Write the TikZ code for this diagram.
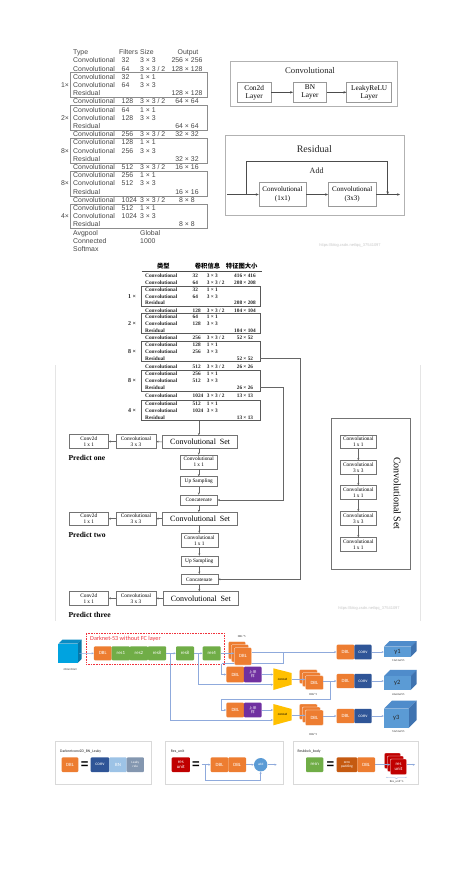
\documentclass[tikz,border=0pt]{standalone}
\usepackage{fontspec}
\setmainfont{Liberation Serif}
\newfontfamily\arialf{Liberation Sans}
\newfontfamily\carlf{Carlito}
\newfontfamily\cjkf{Noto Sans CJK SC}
\usetikzlibrary{arrows.meta,decorations.pathreplacing}
\definecolor{dblor}{HTML}{ED7D31}
\definecolor{resgr}{HTML}{70AD47}
\definecolor{convbl}{HTML}{2F5597}
\definecolor{bnbl}{HTML}{9DC3E6}
\definecolor{leakyg}{HTML}{8497B0}
\definecolor{uppur}{HTML}{7030A0}
\definecolor{catyel}{HTML}{FFC000}
\definecolor{cubefr}{HTML}{5B9BD5}
\definecolor{cubetp}{HTML}{4F8CCB}
\definecolor{cubesd}{HTML}{3F73B0}
\definecolor{incyan}{HTML}{00A3E0}
\definecolor{incyantp}{HTML}{0A8CC4}
\definecolor{incyansd}{HTML}{0678AA}
\definecolor{resred}{HTML}{C00000}
\definecolor{zeropad}{HTML}{C55A11}
\definecolor{linkbl}{HTML}{8FAADC}
\definecolor{dashred}{HTML}{F0323C}
\definecolor{panelg}{HTML}{D9D9D9}

\newcommand\trow[5]{%
  \pgfmathsetmacro\tyy{60.5+(#1-1)*8.2+2.4}%
  \node[tt,anchor=base west] (ta#1) at (73,\tyy) {#2};%
  \node[tt,anchor=base west] (tb#1) at (121.5,\tyy) {#3};%
  \node[tt,anchor=base west] (tc#1) at (140,\tyy) {#4};%
  \node[tt,anchor=base] (td#1) at (187,\tyy) {#5};%
}
\newcommand\tbx[3]{%
  \pgfmathsetmacro\tya{60.5+(#1-1)*8.2-4.2}%
  \pgfmathsetmacro\tyb{60.5+(#2-1)*8.2+4.2}%
  \pgfmathsetmacro\tym{60.5+(#1)*8.2}%
  \draw[tboxs] (70,\tya) rectangle (207,\tyb);%
  \node[tt] (tm#1) at (65,\tym) {#3};%
}
\newcommand\mrow[6]{%
  \node[mt,anchor=base west] (ma#1) at (145,{#2+1.8}) {#3};%
  \node[mt,anchor=base west] (mb#1) at (192.5,{#2+1.8}) {#4};%
  \node[mt,anchor=base west] (mc#1) at (206.7,{#2+1.8}) {#5};%
  \node[mt,anchor=base] (md#1) at (245,{#2+1.8}) {#6};%
}
\newcommand\mbx[4]{%
  \draw[mboxs] (141.7,#1) rectangle (260,#2);%
  \node[mt,font=\bfseries\fontsize{6}{7}\selectfont] (mm#3) at (132,{(#1+#2)/2}) {#4};%
}
% stacked box: name, xleft, ytop, w, h, colour, text
\newcommand\stk[7]{%
  \pgfmathsetmacro\sxa{#2+#4-6}\pgfmathsetmacro\sya{#3+#5-6}%
  \fill[#6,draw=white,line width=.3pt,rounded corners=1pt] (#2,#3) rectangle (\sxa,\sya);%
  \fill[#6,draw=white,line width=.3pt,rounded corners=1pt] ({#2+3},{#3+3}) rectangle ({\sxa+3},{\sya+3});%
  \node[bb,fill=#6,draw=white,line width=.3pt,minimum width={#4-6},minimum height={#5-6}] (#1) at ({#2+3+#4/2},{#3+3+#5/2}) {#7};%
}
% cube: name, xleft, ytop(front), w, h, depth, label
\newcommand\ycube[7]{%
  \fill[cubetp] (#2,#3) -- ({#2+#6},{#3-#6}) -- ({#2+#4+#6},{#3-#6}) -- ({#2+#4},#3) -- cycle;%
  \fill[cubesd] ({#2+#4},#3) -- ({#2+#4+#6},{#3-#6}) -- ({#2+#4+#6},{#3+#5-#6}) -- ({#2+#4},{#3+#5}) -- cycle;%
  \node[fill=cubefr,inner sep=0pt,minimum width=#4,minimum height=#5,font=\carlf\fontsize{6.5}{7}\selectfont,text=black!85] (#1) at ({#2+#4/2},{#3+#5/2}) {#7};%
}

\begin{document}
\begin{tikzpicture}[x=1pt,y=-1pt,
  tt/.style={font=\arialf\fontsize{6.9}{7}\selectfont,text=black!72,inner sep=0pt},
  tboxs/.style={draw=black!45,line width=.5pt},
  mt/.style={font=\bfseries\fontsize{5.3}{6}\selectfont,text=black!85,inner sep=0pt},
  mboxs/.style={draw=black!65,line width=.55pt},
  gbox/.style={draw=black!40,line width=.5pt,fill=white,align=center,inner sep=0pt},
  garr/.style={draw=black!70,line width=.5pt,-{Stealth[length=3pt,width=2.4pt]}},
  fbox/.style={draw=black!55,line width=.45pt,fill=white,align=center,inner sep=0pt,font=\fontsize{5.3}{6}\selectfont},
  marr/.style={draw=black!60,line width=.5pt,-{Stealth[length=2.4pt,width=2pt]}},
  plab/.style={font=\bfseries\fontsize{7.6}{8}\selectfont,inner sep=0pt,anchor=west},
  bb/.style={rounded corners=1pt,inner sep=0pt,minimum height=14pt,font=\carlf\fontsize{4.8}{5}\selectfont,text=white,align=center},
  dbl/.style={bb,fill=dblor,minimum width=17.7pt},
  resb/.style={bb,fill=resgr,minimum width=18.3pt},
  convb/.style={bb,fill=convbl,minimum width=17.4pt},
  upsm/.style={bb,fill=uppur,minimum width=17.7pt,minimum height=15.6pt,font=\cjkf\fontsize{3.6}{4.2}\selectfont},
  lnk/.style={draw=linkbl,line width=.45pt,-{Stealth[length=2.2pt,width=2pt]}},
  lnkn/.style={draw=linkbl,line width=.45pt},
  tiny/.style={font=\carlf\fontsize{3}{3.5}\selectfont,text=black!75,inner sep=0pt},
  ptitle/.style={font=\carlf\fontsize{3.8}{4}\selectfont,text=black!85,inner sep=0pt,anchor=west},
  eqs/.style={font=\arialf\bfseries\fontsize{13}{13}\selectfont,inner sep=0pt},
  wm/.style={font=\arialf\fontsize{4}{4.5}\selectfont,text=black!22,inner sep=0pt}
]
\useasboundingbox (0,0) rectangle (474,880);
\fill[white] (0,0) rectangle (474,880);

%================ TOP TABLE =================
\node[tt,anchor=base west] (hType) at (73,54.7) {Type};
\node[tt,anchor=base west] (hFil) at (119,54.7) {Filters};
\node[tt,anchor=base west] (hSize) at (140,54.7) {Size};
\node[tt,anchor=base] (hOut) at (188,54.7) {Output};
\trow{1}{Convolutional}{32}{3 × 3}{256 × 256}
\trow{2}{Convolutional}{64}{3 × 3 / 2}{128 × 128}
\trow{3}{Convolutional}{32}{1 × 1}{}
\trow{4}{Convolutional}{64}{3 × 3}{}
\trow{5}{Residual}{}{}{128 × 128}
\trow{6}{Convolutional}{128}{3 × 3 / 2}{64 × 64}
\trow{7}{Convolutional}{64}{1 × 1}{}
\trow{8}{Convolutional}{128}{3 × 3}{}
\trow{9}{Residual}{}{}{64 × 64}
\trow{10}{Convolutional}{256}{3 × 3 / 2}{32 × 32}
\trow{11}{Convolutional}{128}{1 × 1}{}
\trow{12}{Convolutional}{256}{3 × 3}{}
\trow{13}{Residual}{}{}{32 × 32}
\trow{14}{Convolutional}{512}{3 × 3 / 2}{16 × 16}
\trow{15}{Convolutional}{256}{1 × 1}{}
\trow{16}{Convolutional}{512}{3 × 3}{}
\trow{17}{Residual}{}{}{16 × 16}
\trow{18}{Convolutional}{1024}{3 × 3 / 2}{8 × 8}
\trow{19}{Convolutional}{512}{1 × 1}{}
\trow{20}{Convolutional}{1024}{3 × 3}{}
\trow{21}{Residual}{}{}{8 × 8}
\trow{22}{Avgpool}{}{Global}{}
\trow{23}{Connected}{}{1000}{}
\trow{24}{Softmax}{}{}{}
\tbx{3}{5}{1×}
\tbx{7}{9}{2×}
\tbx{11}{13}{8×}
\tbx{15}{17}{8×}
\tbx{19}{21}{4×}

%================ TOP RIGHT: Convolutional =================
\draw[draw=black!30,line width=.5pt] (230,61.7) rectangle (397.3,106);
\node[inner sep=0pt,font=\fontsize{8.7}{9}\selectfont,text=black!85] (convT) at (310,70.7) {Convolutional};
\node[gbox,minimum width=33.7,minimum height=20,font=\fontsize{7.3}{8}\selectfont] (c2d) at (254.2,92.3) {Con2d\\Layer};
\node[gbox,minimum width=33.4,minimum height=20,font=\fontsize{7.3}{8}\selectfont] (bnl) at (310,92.3) {BN\\Layer};
\node[gbox,minimum width=45,minimum height=20,font=\fontsize{7.3}{8}\selectfont] (lrl) at (369.2,92.3) {LeakyReLU\\Layer};
\draw[garr] (c2d) -- (bnl);
\draw[garr] (bnl) -- (lrl);

%================ TOP RIGHT: Residual =================
\draw[draw=black!30,line width=.5pt] (225.7,135.7) rectangle (404.3,215.7);
\node[inner sep=0pt,font=\fontsize{10}{11}\selectfont,text=black!85] (resT) at (314.3,149) {Residual};
\node[inner sep=0pt,font=\fontsize{8.1}{9}\selectfont,text=black!85] (addT) at (316.7,170.7) {Add};
\node[gbox,minimum width=47,minimum height=24.4,font=\fontsize{7}{8.5}\selectfont] (rc1) at (282.5,194.5) {Convolutional\\(1x1)};
\node[gbox,minimum width=47.7,minimum height=24.4,font=\fontsize{7}{8.5}\selectfont] (rc2) at (352.2,194.5) {Convolutional\\(3x3)};
\coordinate (rin) at (227.3,194.5);
\coordinate (rsp) at (246,194.5);
\coordinate (rtl) at (246,161.7);
\coordinate (rtr) at (387.7,161.7);
\coordinate (rjn) at (387.7,194.5);
\coordinate (rout) at (400,194.5);
\draw[black!70,line width=.5pt] (rin) -- (rsp);
\draw[garr] (rsp) -- (rc1);
\draw[garr] (rc1) -- (rc2);
\draw[garr] (rc2) -- (rout);
\draw[garr] (rsp) -- (rtl) -- (rtr) -- (rjn);
\node[wm] (wm1) at (350,245) {https://blog.csdn.net/qq\_37541097};

%================ MIDDLE TABLE =================
\node[inner sep=0pt,font=\cjkf\bfseries\fontsize{6.3}{7}\selectfont] (mh1) at (163.3,266.3) {类型};
\node[inner sep=0pt,font=\cjkf\bfseries\fontsize{6.3}{7}\selectfont] (mh2) at (207.5,266.3) {卷积信息};
\node[inner sep=0pt,font=\cjkf\bfseries\fontsize{6.3}{7}\selectfont] (mh3) at (241.7,266.3) {特征图大小};
\draw[black!70,line width=.5pt] (141.7,271.3) -- (261.7,271.3);
\mrow{1}{275.3}{Convolutional}{32}{3 × 3}{416 × 416}
\mrow{2}{282.3}{Convolutional}{64}{3 × 3 / 2}{208 × 208}
\mrow{3}{289.7}{Convolutional}{32}{1 × 1}{}
\mrow{4}{296.3}{Convolutional}{64}{3 × 3}{}
\mrow{5}{303}{Residual}{}{}{208 × 208}
\mrow{6}{310.3}{Convolutional}{128}{3 × 3 / 2}{104 × 104}
\mrow{7}{317}{Convolutional}{64}{1 × 1}{}
\mrow{8}{323.7}{Convolutional}{128}{3 × 3}{}
\mrow{9}{330.3}{Residual}{}{}{104 × 104}
\mrow{10}{338}{Convolutional}{256}{3 × 3 / 2}{52 × 52}
\mrow{11}{345}{Convolutional}{128}{1 × 1}{}
\mrow{12}{351.7}{Convolutional}{256}{3 × 3}{}
\mrow{13}{358.3}{Residual}{}{}{52 × 52}
\mrow{14}{366.7}{Convolutional}{512}{3 × 3 / 2}{26 × 26}
\mrow{15}{374}{Convolutional}{256}{1 × 1}{}
\mrow{16}{380.7}{Convolutional}{512}{3 × 3}{}
\mrow{17}{387.7}{Residual}{}{}{26 × 26}
\mrow{18}{396}{Convolutional}{1024}{3 × 3 / 2}{13 × 13}
\mrow{19}{403.3}{Convolutional}{512}{1 × 1}{}
\mrow{20}{410.7}{Convolutional}{1024}{3 × 3}{}
\mrow{21}{417.3}{Residual}{}{}{13 × 13}
\mbx{286.3}{306.4}{1}{1 ×}
\mbx{313.6}{333.7}{2}{2 ×}
\mbx{341.6}{361.7}{3}{8 ×}
\mbx{370.6}{391.1}{4}{8 ×}
\mbx{399.9}{420.7}{5}{4 ×}

%================ MIDDLE FLOW =================
\draw[black!10,line width=.4pt] (55,365) -- (55,621);
\draw[black!10,line width=.4pt] (420,365) -- (420,621);
\node[fbox,minimum width=75,minimum height=12.8,font=\fontsize{8}{9}\selectfont] (cs1) at (200.2,442) {Convolutional~ Set};
\node[fbox,minimum width=40,minimum height=14] (c33a) at (136,441.5) {Convolutional\\3 x 3};
\node[fbox,minimum width=39,minimum height=14] (c2da) at (88.8,441.5) {Conv2d\\1 x 1};
\node[plab] (p1) at (68.3,458.3) {Predict one};
\node[fbox,minimum width=37,minimum height=14] (c11a) at (198.8,462) {Convolutional\\1 x 1};
\node[fbox,minimum width=37,minimum height=10] (upa) at (198.8,481.7) {Up Sampling};
\node[fbox,minimum width=37,minimum height=10] (cata) at (198.8,500) {Concatenate};
\node[fbox,minimum width=75,minimum height=12.8,font=\fontsize{8}{9}\selectfont] (cs2) at (200.2,518.7) {Convolutional~ Set};
\node[fbox,minimum width=40,minimum height=13.5] (c33b) at (136,518.7) {Convolutional\\3 x 3};
\node[fbox,minimum width=39,minimum height=13.5] (c2db) at (88.8,518.7) {Conv2d\\1 x 1};
\node[plab] (p2) at (68.3,535) {Predict two};
\node[fbox,minimum width=37,minimum height=14] (c11b) at (199.3,540.3) {Convolutional\\1 x 1};
\node[fbox,minimum width=37,minimum height=10] (upb) at (199.3,561) {Up Sampling};
\node[fbox,minimum width=37,minimum height=10] (catb) at (199.3,579.3) {Concatenate};
\node[fbox,minimum width=75,minimum height=13.3,font=\fontsize{8}{9}\selectfont] (cs3) at (200.8,598.3) {Convolutional~ Set};
\node[fbox,minimum width=40,minimum height=13.5] (c33c) at (136,598.3) {Convolutional\\3 x 3};
\node[fbox,minimum width=39,minimum height=13.5] (c2dc) at (88.8,598.3) {Conv2d\\1 x 1};
\node[plab] (p3) at (68.3,615) {Predict three};

\coordinate (m13) at (198.8,420.7);
\coordinate (m52) at (260,358.3);
\coordinate (m52c) at (300,358.3);
\coordinate (m26) at (260,387.7);
\coordinate (m26c) at (283.3,387.7);
\draw[marr] (m13) -- (m13 |- cs1.north);
\draw[marr] (cs1.west) -- (c33a.east);
\draw[marr] (c33a.west) -- (c2da.east);
\draw[marr] (c11a |- cs1.south) -- (c11a.north);
\draw[marr] (c11a) -- (upa);
\draw[marr] (upa) -- (cata);
\draw[marr] (cata.south) -- (cata |- cs2.north);
\draw[marr] (cs2.west) -- (c33b.east);
\draw[marr] (c33b.west) -- (c2db.east);
\draw[marr] (c11b |- cs2.south) -- (c11b.north);
\draw[marr] (c11b) -- (upb);
\draw[marr] (upb) -- (catb);
\draw[marr] (catb.south) -- (catb |- cs3.north);
\draw[marr] (cs3.west) -- (c33c.east);
\draw[marr] (c33c.west) -- (c2dc.east);
\draw[marr] (m26) -- (m26c) |- (cata.east);
\draw[marr] (m52) -- (m52c) |- (catb.east);

% Convolutional Set detail
\draw[black!55,line width=.5pt] (331,418.3) rectangle (410.7,569);
\node[fbox,minimum width=36.7,minimum height=13.3] (sa) at (358.3,441.7) {Convolutional\\1 x 1};
\node[fbox,minimum width=36.7,minimum height=13.3] (sb) at (358.3,467.3) {Convolutional\\3 x 3};
\node[fbox,minimum width=36.7,minimum height=13.3] (sc) at (358.3,492.3) {Convolutional\\1 x 1};
\node[fbox,minimum width=36.7,minimum height=13.3] (sd) at (358.3,518.3) {Convolutional\\3 x 3};
\node[fbox,minimum width=36.7,minimum height=13.3] (se) at (358.3,544.3) {Convolutional\\1 x 1};
\draw[marr] (sa) -- (sb);
\draw[marr] (sb) -- (sc);
\draw[marr] (sc) -- (sd);
\draw[marr] (sd) -- (se);
\node[inner sep=0pt,rotate=-90,font=\fontsize{10}{11}\selectfont] (csT) at (397.3,493.3) {Convolutional Set};
\node[wm] (wm2) at (369,608.3) {https://blog.csdn.net/qq\_37541097};

%================ BOTTOM: YOLOv3 =================
% input cube
\fill[incyantp] (58.3,643.7) -- (62.3,639.7) -- (81.7,639.7) -- (77.7,643.7) -- cycle;
\fill[incyansd] (77.7,643.7) -- (81.7,639.7) -- (81.7,659) -- (77.7,663) -- cycle;
\node[fill=incyan,inner sep=0pt,minimum width=19.4,minimum height=19.3] (inimg) at (68,653.35) {};
\node[tiny] (inlab) at (70,669.7) {416x416x3};

\draw[dashred,dashed,line width=.6pt,dash pattern=on 1.6pt off 1pt] (86,633) rectangle (224,664.7);
\node[inner sep=0pt,anchor=west,text=dashred,font=\carlf\fontsize{6.2}{7}\selectfont] (dkT) at (90,639) {Darknet-53 without FC layer};

\node[dbl] (dbl0) at (102.8,653.3) {DBL};
\node[resb] (res1) at (120.8,653.3) {res1};
\node[resb] (res2) at (138.9,653.3) {res2};
\node[resb] (res8a) at (157,653.3) {res8};
\node[resb,minimum width=18] (res8b) at (185,653.3) {res8};
\node[resb,minimum width=18] (res4) at (211.7,653.3) {res4};
\draw[lnk] (inimg.east) ++(1.5,0) -- (dbl0.west);
\draw[lnk] (res8a.east) -- (res8b.west);
\draw[lnk] (res8b.east) -- (res4.west);

% skip lines (behind)
\coordinate (sk1) at (170.5,653.3);
\coordinate (sk2) at (198.3,653.3);
\coordinate (br1) at (283.3,652);
\coordinate (br1b) at (283.3,663.5);
\coordinate (br1c) at (221.7,663.5);
\coordinate (br2) at (330.7,681);
\coordinate (br2b) at (330.7,699);
\coordinate (br2c) at (221.7,699);
\draw[lnkn] (br1) -- (br1b) -- (br1c);
\draw[lnkn] (br2) -- (br2b) -- (br2c);

\stk{dbl5a}{228.3}{641.7}{23.4}{23.3}{dblor}{DBL}
\node[tiny] (l5a) at (241.7,636.7) {DBL*5};
\draw[lnk] (res4.east) -- (dbl5a.west |- res4.east);

% row 1
\node[dbl,minimum height=14.6] (dbl1) at (345.5,652) {DBL};
\node[convb,minimum height=14.6] (conv1) at (363,652) {conv};
\draw[lnk] (dbl5a.east |- dbl1) -- (dbl1.west);
\ycube{y1}{384}{646.5}{27}{10}{5.5}{y1}
\node[tiny,font=\carlf\fontsize{2.8}{3}\selectfont] (y1l) at (398.3,660.7) {13x13x255};
\draw[lnk] (conv1.east) -- (conv1.east -| y1.west);

% row 2
\node[dbl,minimum height=15.6] (dbu1) at (235.3,674.5) {DBL};
\node[upsm] (up1) at (252.8,674.5) {上采\\样};
\draw[lnk] (br1c) |- (dbu1.west);
\fill[catyel] (273.3,668.3) -- (291.7,673) -- (291.7,684.7) -- (273.3,690) -- cycle;
\node[inner sep=0pt,minimum width=18.4,minimum height=21.7,font=\carlf\fontsize{3.4}{4}\selectfont] (cat1) at (282.5,679.2) {concat};
\draw[lnk] (up1.east) -- (up1.east -| cat1.west);
\draw[lnk] (sk2) |- (cat1.west |- 0,684.7);
\stk{dbl5b}{299.3}{669.7}{24}{20}{dblor}{DBL}
\node[tiny] (l5b) at (313.3,694.7) {DBL*5};
\draw[lnk] (cat1.east |- 0,679.5) -- (dbl5b.west |- 0,679.5);
\node[dbl,minimum height=14.3] (dbl2) at (345.5,681) {DBL};
\node[convb,minimum height=14.3] (conv2) at (363,681) {conv};
\draw[lnk] (dbl5b.east |- dbl2) -- (dbl2.west);
\ycube{y2}{384}{676}{26.5}{14}{6.2}{y2}
\node[tiny,font=\carlf\fontsize{2.8}{3}\selectfont] (y2l) at (398.3,694.7) {26x26x255};
\draw[lnk] (conv2.east) -- (conv2.east -| y2.west);

% row 3
\node[dbl,minimum height=14.6] (dbu2) at (235.3,710) {DBL};
\node[upsm,minimum height=14.6] (up2) at (252.8,710) {上采\\样};
\draw[lnk] (br2c) |- (dbu2.west);
\fill[catyel] (273.3,704) -- (291.7,709) -- (291.7,720.3) -- (273.3,725.3) -- cycle;
\node[inner sep=0pt,minimum width=18.4,minimum height=21.3,font=\carlf\fontsize{3.4}{4}\selectfont] (cat2) at (282.5,714.7) {concat};
\draw[lnk] (up2.east) -- (up2.east -| cat2.west);
\draw[lnk] (sk1) |- (cat2.west |- 0,720);
\stk{dbl5c}{299.3}{704}{24}{21.3}{dblor}{DBL}
\node[tiny] (l5c) at (313.3,734) {DBL*5};
\draw[lnk] (cat2.east |- 0,715.5) -- (dbl5c.west |- 0,715.5);
\node[dbl,minimum height=14.3] (dbl3) at (345.5,716) {DBL};
\node[convb,minimum height=14.3] (conv3) at (363,716) {conv};
\draw[lnk] (dbl5c.east |- dbl3) -- (dbl3.west);
\ycube{y3}{384}{708.7}{24.5}{19.3}{8}{y3}
\node[tiny,font=\carlf\fontsize{2.8}{3}\selectfont] (y3l) at (398.3,732) {52x52x255};
\draw[lnk] (conv3.east) -- (conv3.east -| y3.west);

%================ LEGEND PANELS =================
\draw[panelg,line width=.5pt] (55,741.3) rectangle (151.7,784.7);
\node[ptitle] (pt1) at (60,751.3) {Darknetconv2D\_BN\_Leaky};
\node[dbl,minimum width=16.6,minimum height=14.7] (ldbl) at (70,764.7) {DBL};
\node[eqs] (eq1) at (84.7,764.7) {=};
\node[convb,minimum width=18.6,minimum height=14.7] (lconv) at (100,764.7) {conv};
\node[bb,fill=bnbl,minimum width=17.4,minimum height=14.7] (lbn) at (118,764.7) {BN};
\node[bb,fill=leakyg,minimum width=17.3,minimum height=14.7,font=\carlf\fontsize{3.3}{3.8}\selectfont] (llk) at (135.3,764.7) {Leaky\\relu};

\draw[panelg,line width=.5pt] (165,741.3) rectangle (283.3,784.7);
\node[ptitle] (pt2) at (170.7,751.3) {Res\_unit};
\node[bb,fill=resred,minimum width=18.3,minimum height=14.7] (lru) at (180.8,764.7) {res\\unit};
\node[eqs] (eq2) at (195.8,764.7) {=};
\coordinate (lin) at (201.7,764.7);
\coordinate (lsp) at (205,764.7);
\node[dbl,minimum height=14.7] (ldA) at (219.5,764.7) {DBL};
\node[dbl,minimum height=14.7] (ldB) at (237.2,764.7) {DBL};
\node[circle,fill=cubefr,minimum size=13.4,inner sep=0pt,font=\carlf\fontsize{3.5}{4}\selectfont,text=white] (ladd) at (260.7,764.7) {add};
\coordinate (lout) at (276.7,764.7);
\coordinate (lbot) at (205,780.7);
\draw[lnkn] (lin) -- (lsp);
\draw[lnk] (lsp) -- (ldA.west);
\draw[lnk] (ldB.east) -- (ladd.west);
\draw[lnk] (ladd.east) -- (lout);
\draw[lnk] (lsp) -- (lbot) -| (ladd.south);

\draw[panelg,line width=.5pt] (293.3,741.3) rectangle (418.3,784.7);
\node[ptitle] (pt3) at (297.3,751.3) {Resblock\_body};
\node[resb,minimum width=17.3,minimum height=14.7] (lresn) at (314.7,764.7) {resn};
\node[eqs] (eq3) at (330.5,764.7) {=};
\node[bb,fill=zeropad,minimum width=20.6,minimum height=14.7,font=\carlf\fontsize{3.6}{4.2}\selectfont] (lzp) at (347,764.7) {zero\\padding};
\node[dbl,minimum height=14.7] (lzd) at (366.2,764.7) {DBL};
\stk{lstk}{384.3}{753}{22.4}{21.7}{resred}{res\\unit}
\coordinate (lsout) at (415,764.7);
\draw[lnk] (lzd.east) -- (lstk.west |- lzd.east);
\draw[lnk] (lstk.east |- lzd.east) -- (lsout);
\draw[linkbl,line width=.4pt,decorate,decoration={brace,mirror,amplitude=1.5pt}] (386,777) -- (406.7,777);
\node[tiny] (lrn) at (396.7,781.7) {Res\_unit*n};

\end{tikzpicture}
\end{document}
